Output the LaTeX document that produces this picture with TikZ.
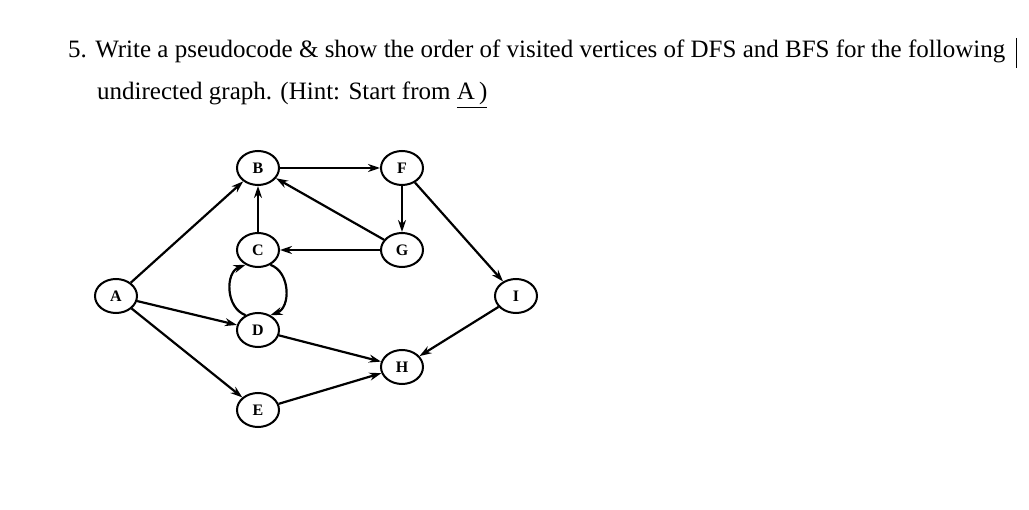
\documentclass[tikz,border=0pt]{standalone}
\usepackage{fontspec}
\setmainfont{Liberation Serif}
\usetikzlibrary{shapes.geometric,arrows.meta}
\begin{document}
\begin{tikzpicture}[x=1pt,y=-1pt,
 v/.style={draw,ellipse,line width=2pt,minimum width=42,minimum height=34,inner sep=0,font=\fontsize{16}{16}\selectfont\bfseries},
 e/.style={line width=2.2pt,-{Stealth[length=12pt,width=8pt]}},
 txt/.style={anchor=base west,inner sep=0,font=\fontsize{25}{25}\selectfont}]
\useasboundingbox (0,0) rectangle (1029,510);
\node[txt] (t1) at (68,58) {5. Write a pseudocode \& show the order of visited vertices of DFS and BFS for the following};
\draw[line width=1pt] (1016,38) -- (1016,68);
\node[txt] (t2) at (97,100) {undirected graph. (Hint: Start from \underline{A\,)}};
\node[v] (A) at (116,296) {A};
\node[v] (B) at (258,168) {B};
\node[v] (F) at (402,168) {F};
\node[v] (C) at (258,250) {C};
\node[v] (G) at (402,250) {G};
\node[v] (I) at (516,296) {I};
\node[v] (D) at (258,330) {D};
\node[v] (H) at (402,367) {H};
\node[v] (E) at (258,410) {E};
\draw[e] (A) -- (B);
\draw[e] (B) -- (F);
\draw[e] (G) -- (B);
\draw[e] (F) -- (G);
\draw[e] (G) -- (C);
\draw[e] (C) -- (B);
\draw[e] (F) -- (I);
\draw[e] (I) -- (H);
\draw[e] (A) -- (D);
\draw[e] (A) -- (E);
\draw[e] (D) -- (H);
\draw[e] (E) -- (H);
\draw[e] (D.130) to[out=160,in=200,looseness=1.1] (C.230);
\draw[e] (C.310) to[out=-20,in=20,looseness=1.1] (D.50);
\end{tikzpicture}
\end{document}
